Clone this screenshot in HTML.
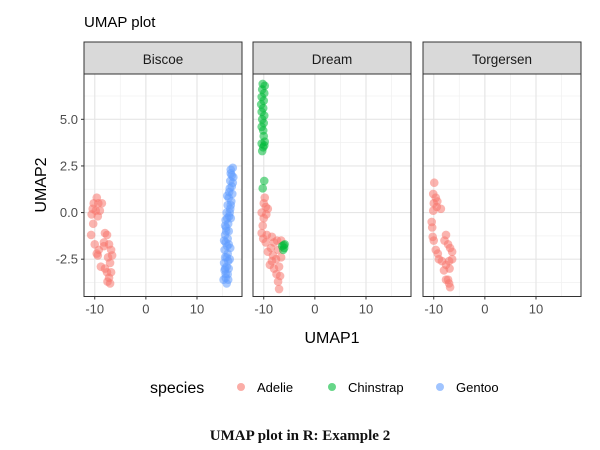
<!DOCTYPE html>
<html><head><meta charset="utf-8"><style>
body{margin:0;background:#fff;}
svg{display:block;font-family:"Liberation Sans",sans-serif;}
</style></head><body>
<svg id="chart" width="600" height="450">
<text x="84" y="27" font-size="15" fill="#000">UMAP plot</text>
<text transform="translate(46,185) rotate(-90)" text-anchor="middle" font-size="16" fill="#000">UMAP2</text>
<text x="332" y="343" text-anchor="middle" font-size="16" fill="#000">UMAP1</text>
<g>
<text x="150" y="393" font-size="16" fill="#000">species</text>
<circle cx="241" cy="387" r="4" fill="#F8766D" fill-opacity="0.6"/>
<text x="257" y="392" font-size="13" fill="#000">Adelie</text>
<circle cx="332" cy="387" r="4" fill="#00BA38" fill-opacity="0.6"/>
<text x="348" y="392" font-size="13" fill="#000">Chinstrap</text>
<circle cx="440" cy="387" r="4" fill="#619CFF" fill-opacity="0.6"/>
<text x="456" y="392" font-size="13" fill="#000">Gentoo</text>
</g>
<text x="300" y="440" text-anchor="middle" font-size="15" font-weight="bold" font-family="'Liberation Serif',serif" fill="#111">UMAP plot in R: Example 2</text>
</svg>
<script>
const panels = ["Biscoe","Dream","Torgersen"];
const xTicks = [-10,0,10];
const yTicks = [5.0,2.5,0.0,-2.5];
const yTickLabels = ["5.0","2.5","0.0","-2.5"];
const adelieBiscoe = [[-9.6,0.8],[-10.2,0.5],[-9.3,0.5],[-8.6,0.5],[-10.4,0.2],[-9.8,0.1],[-9,0.1],[-10.6,-0.1],[-9.4,-0.2],[-10.3,-0.6],[-10.7,-1.2],[-10.0,-1.7],[-8.0,-1.1],[-7.6,-1.2],[-8.2,-1.6],[-7.2,-1.7],[-9.2,-2.0],[-9.6,-2.2],[-8.2,-1.8],[-6.8,-2.0],[-6.6,-2.3],[-7.4,-2.4],[-7.0,-2.7],[-9.4,-2.3],[-8.8,-2.9],[-8.0,-3.0],[-7.6,-3.2],[-6.8,-3.2],[-7.2,-3.5],[-7.0,-3.8],[-7.5,-3.7]];
const gentooBiscoe = [[17.0,2.4],[16.6,2.3],[16.8,2.0],[16.5,1.7],[17.0,1.6],[16.4,1.3],[16.9,1.0],[16.2,0.8],[16.7,0.6],[16.0,0.4],[16.5,0.2],[15.8,0.0],[16.3,-0.2],[15.6,-0.4],[16.1,-0.6],[15.7,-0.8],[16.2,-1.0],[15.5,-1.2],[16.0,-1.4],[15.6,-1.6],[15.9,-1.8],[15.4,-2.0],[16.0,-2.2],[15.5,-2.4],[16.1,-2.6],[15.3,-2.7],[15.8,-2.9],[15.4,-3.1],[16.0,-3.3],[15.6,-3.5],[15.2,-3.6],[15.8,-3.8],[16.4,-2.5],[16.6,-0.3],[15.9,0.9],[16.8,1.4],[15.3,-1.5],[16.5,-1.9],[15.5,-3.0],[16.6,2.1],[17.1,1.9],[16.3,1.1],[16.6,0.4],[15.9,-0.3],[15.7,-1.0],[16.2,-1.7],[15.8,-2.4],[16.2,-3.0],[15.6,-3.3],[16.1,-3.6],[16.4,0.0],[15.5,-0.7]];
const chinstrapDream = [[-10.2,6.9],[-9.8,6.8],[-10.3,6.6],[-9.9,6.4],[-10.4,6.2],[-10.0,6.0],[-10.5,5.8],[-10.1,5.6],[-10.4,5.4],[-9.9,5.2],[-10.3,5.0],[-10.0,4.8],[-10.4,4.6],[-10.1,4.4],[-10.0,4.1],[-9.8,3.8],[-10.4,3.7],[-10.1,3.5],[-10.3,3.3],[-9.9,3.6],[-9.9,1.7],[-10.2,1.3],[-6.4,-1.8],[-6.0,-1.9],[-6.2,-2.0],[-5.9,-1.7],[-6.1,-1.75]];
const adelieDream = [[-9.8,0.8],[-10.0,0.5],[-9.6,0.3],[-9.2,0.2],[-10.4,0.0],[-9.5,-0.1],[-10.0,-0.3],[-10.2,-0.7],[-10.4,-1.1],[-10.1,-1.4],[-9.6,-1.6],[-8.4,-1.3],[-8.0,-1.6],[-7.4,-1.5],[-6.6,-1.5],[-8.6,-1.9],[-9.2,-2.1],[-8.2,-2.3],[-7.2,-2.0],[-6.6,-2.4],[-7.6,-2.5],[-8.8,-2.8],[-8.0,-3.0],[-7.0,-2.9],[-7.5,-3.3],[-6.8,-3.4],[-7.2,-3.7],[-7.0,-4.1],[-8.4,-2.6],[-9.4,-1.2]];
const adelieTorgersen = [[-9.9,1.6],[-10.1,1.0],[-9.6,0.8],[-9.3,0.6],[-10.0,0.5],[-9.4,0.3],[-8.6,0.2],[-10.1,0.1],[-10.4,-0.5],[-10.3,-0.8],[-10.2,-1.3],[-10.0,-1.5],[-7.6,-1.2],[-7.9,-1.5],[-7.2,-1.7],[-6.4,-2.1],[-6.8,-1.9],[-9.6,-2.0],[-9.2,-2.2],[-9.0,-2.5],[-8.4,-2.6],[-7.0,-2.6],[-7.6,-2.8],[-6.9,-3.0],[-8.0,-3.1],[-7.2,-3.6],[-7.6,-3.6],[-7.0,-3.8],[-6.8,-4.0],[-6.4,-2.5]];

const NS="http://www.w3.org/2000/svg";
const svg=document.getElementById('chart');
const panelLeft=[84,253,423], pw=158, stripTop=42, plotTop=74, plotBottom=296.5;
const xMin=-12.1,xMax=18.8,yMin=-4.5,yMax=7.43;
function el(t,a,p){const e=document.createElementNS(NS,t);for(const k in a)e.setAttribute(k,a[k]);(p||svg).appendChild(e);return e;}
const series=[
 [[adelieBiscoe,"#F8766D"],[gentooBiscoe,"#619CFF"]],
 [[adelieDream,"#F8766D"],[chinstrapDream,"#00BA38"]],
 [[adelieTorgersen,"#F8766D"]]
];
panels.forEach((name,i)=>{
 const L=panelLeft[i];
 const sx=v=>L+(v-xMin)/(xMax-xMin)*pw;
 const sy=v=>plotBottom-(v-yMin)/(yMax-yMin)*(plotBottom-plotTop);
 const g=el('g',{});
 
 
 el('rect',{x:L,y:plotTop,width:pw,height:plotBottom-plotTop,fill:'#fff'},g);
 [-5,5,15].forEach(v=>el('line',{x1:sx(v),x2:sx(v),y1:plotTop,y2:plotBottom,stroke:'#f0f0f0','stroke-width':0.7},g));
 [6.25,3.75,1.25,-1.25,-3.75].forEach(v=>el('line',{x1:L,x2:L+pw,y1:sy(v),y2:sy(v),stroke:'#f0f0f0','stroke-width':0.7},g));
 xTicks.forEach(v=>el('line',{x1:sx(v),x2:sx(v),y1:plotTop,y2:plotBottom,stroke:'#e6e6e6','stroke-width':1.2},g));
 yTicks.forEach(v=>el('line',{x1:L,x2:L+pw,y1:sy(v),y2:sy(v),stroke:'#e6e6e6','stroke-width':1.2},g));
 series[i].forEach(([pts,col])=>pts.forEach(p=>{
  const c=el('circle',{cx:sx(p[0]),cy:sy(p[1]),r:4.3,fill:col,'fill-opacity':0.55},g);
  
  
 }));
 el('rect',{x:L,y:plotTop,width:pw,height:plotBottom-plotTop,fill:'none',stroke:'#333','stroke-width':1},g);
 const s=el('rect',{x:L,y:stripTop,width:pw,height:plotTop-stripTop,fill:'#d9d9d9',stroke:'#333','stroke-width':1},g);
 
 
 const st=el('text',{x:L+pw/2,y:stripTop+22,'text-anchor':'middle','font-size':13.5,fill:'#1a1a1a'},g);
 st.textContent=name;
 
 
 xTicks.forEach(v=>{
  el('line',{x1:sx(v),x2:sx(v),y1:plotBottom,y2:plotBottom+3,stroke:'#333'},g);
  const t=el('text',{x:sx(v),y:plotBottom+17,'text-anchor':'middle','font-size':13,fill:'#4d4d4d'},g);
  t.textContent=v;
  
  
 });
 if(i===0){
  yTicks.forEach((v,j)=>{
   el('line',{x1:L-3,x2:L,y1:sy(v),y2:sy(v),stroke:'#333'},g);
   const t=el('text',{x:L-6,y:sy(v)+4.5,'text-anchor':'end','font-size':13,fill:'#4d4d4d'},g);
   t.textContent=yTickLabels[j];
   
   
  });
 }
});
</script>
</body></html>
